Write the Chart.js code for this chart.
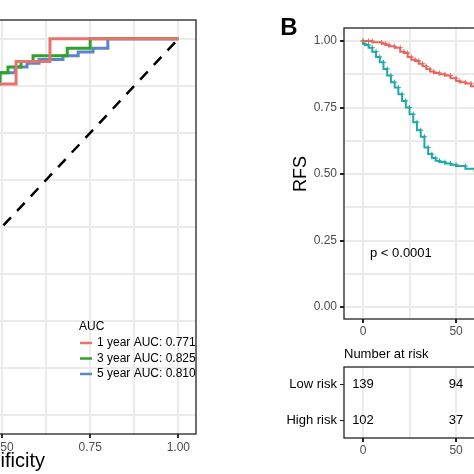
<!DOCTYPE html>
<html>
<head>
<meta charset="utf-8">
<script src="https://cdn.jsdelivr.net/npm/chart.js@4"></script>
<style>
  body { margin: 0; width: 474px; height: 474px; overflow: hidden; position: relative; background: #fff; }
  canvas { position: absolute; }
</style>
</head>
<body>
<canvas id="roc" style="left:-242px;top:0;width:442px;height:474px"></canvas>
<canvas id="km" style="left:280px;top:0;width:335px;height:345px"></canvas>
<canvas id="risk" style="left:280px;top:340px;width:335px;height:134px"></canvas>
<script>
// ROC curves (x: 1 - specificity, y: sensitivity), visible part
const roc1 = [[0.40,0.81],[0.54,0.88],[0.636,0.94],[0.87,1.0],[1.0,1.0]];
const roc3 = [[0.40,0.86],[0.494,0.88],[0.517,0.91],[0.554,0.925],[0.588,0.94],[0.685,0.955],[0.75,0.975],[0.855,1.0],[1.0,1.0]];
const roc5 = [[0.40,0.87],[0.494,0.89],[0.537,0.91],[0.571,0.925],[0.605,0.935],[0.673,0.945],[0.716,0.955],[0.758,0.965],[0.80,0.975],[0.835,1.0],[1.0,1.0]];
const rocLabels = ["1 year AUC: 0.771", "3 year AUC: 0.825", "5 year AUC: 0.810"];
const rocColors = ["#E8736C", "#33A02C", "#5B87C9"];

// Kaplan-Meier RFS, time in months
const kmLow = [[0,1],[3,1],[5,1],[10,0.995],[12,0.99],[14,0.985],[17,0.98],[20,0.975],[22,0.96],[24,0.955],[26,0.94],[28,0.93],[30,0.925],[32,0.915],[34,0.905],[36,0.895],[38,0.885],[41,0.88],[44,0.875],[47,0.87],[50,0.86],[52,0.85],[55,0.845],[58,0.84],[62,0.83],[66,0.82],[70,0.81]];
const kmHigh = [[0,1],[1,0.99],[3,0.985],[5,0.975],[7,0.96],[9,0.94],[11,0.92],[13,0.895],[15,0.87],[17,0.845],[19,0.825],[21,0.8],[23,0.775],[25,0.75],[27,0.725],[29,0.695],[31,0.665],[33,0.64],[35,0.6],[37,0.575],[39,0.56],[41,0.55],[44,0.545],[47,0.54],[50,0.535],[55,0.53],[60,0.52],[64,0.51],[70,0.49]];

// Number at risk
const riskTimes = [0, 50];
const riskGroups = ["Low risk", "High risk"];
const riskLow = [139, 94];
const riskHigh = [102, 37];

const FONT = "'Liberation Sans', Arial, sans-serif";
Chart.defaults.font.family = FONT;
Chart.defaults.animation = false;

const toXY = (arr) => arr.map(([x, y]) => ({ x, y }));
const isMajor = (v) => Math.abs(v / 0.25 - Math.round(v / 0.25)) < 1e-6;
const fmt2 = (v) => (isMajor(v) ? v.toFixed(2) : "");
const eighths = [0, 0.125, 0.25, 0.375, 0.5, 0.625, 0.75, 0.875, 1];

// draws panel border around chart area
const borderPlugin = {
  id: "border",
  afterDraw(chart) {
    const { ctx, chartArea: a } = chart;
    ctx.save();
    ctx.strokeStyle = "#222";
    ctx.lineWidth = 1.3;
    ctx.strokeRect(a.left, a.top, a.right - a.left, a.bottom - a.top);
    ctx.restore();
  },
};

// ROC chart
new Chart(document.getElementById("roc"), {
  type: "line",
  data: {
    datasets: [
      ...[roc1, roc3, roc5].map((d, i) => ({
        label: rocLabels[i],
        data: toXY(d),
        borderColor: rocColors[i],
        borderWidth: 3,
        pointRadius: 0,
        stepped: "after",
      })),
      {
        label: "ref",
        data: [{ x: 0, y: 0 }, { x: 1, y: 1 }],
        borderColor: "#000",
        borderWidth: 2.5,
        borderDash: [11, 9],
        pointRadius: 0,
      },
    ],
  },
  options: {
    responsive: false,
    layout: { padding: { top: 20, right: 4 } },
    plugins: { legend: { display: false }, tooltip: { enabled: false } },
    scales: {
      x: {
        type: "linear",
        min: -0.05,
        max: 1.05,
        afterFit: (s) => { s.height = 40; },
        afterBuildTicks: (s) => { s.ticks = eighths.map((v) => ({ value: v })); },
        ticks: { callback: fmt2, color: "#4d4d4d", font: { size: 12 }, autoSkip: false, maxRotation: 0, padding: 2 },
        grid: { color: "#ebebeb", lineWidth: 2, tickLength: 4, tickColor: (c) => (c.tick && isMajor(c.tick.value) ? "#333" : "transparent") },
        border: { display: false },
      },
      y: {
        type: "linear",
        min: -0.05,
        max: 1.05,
        afterFit: (s) => { s.width = 50; },
        afterBuildTicks: (s) => { s.ticks = eighths.map((v) => ({ value: v })); },
        ticks: { callback: fmt2, color: "#4d4d4d", font: { size: 12 } },
        grid: { color: "#ebebeb", lineWidth: 2, tickLength: 4 },
        border: { display: false },
      },
    },
  },
  plugins: [
    borderPlugin,
    {
      id: "rocText",
      afterDraw(chart) {
        const { ctx } = chart;
        ctx.save();
        ctx.fillStyle = "#000";
        ctx.font = `20px ${FONT}`;
        ctx.textAlign = "right";
        ctx.textBaseline = "middle";
        ctx.fillText("1 - Specificity", 287, 461);
        // legend
        ctx.textAlign = "left";
        ctx.font = `12px ${FONT}`;
        ctx.fillText("AUC", 321, 327);
        rocLabels.forEach((lab, i) => {
          const y = 343 + i * 15.5;
          ctx.strokeStyle = rocColors[i];
          ctx.lineWidth = 2.5;
          ctx.beginPath();
          ctx.moveTo(322, y);
          ctx.lineTo(334, y);
          ctx.stroke();
          ctx.fillText(lab, 339, y);
        });
        ctx.restore();
      },
    },
  ],
});

// KM chart
new Chart(document.getElementById("km"), {
  type: "line",
  data: {
    datasets: [
      { label: "Low risk", data: toXY(kmLow), borderColor: "#E7665D", backgroundColor: "#E7665D", borderWidth: 2, stepped: "after", pointStyle: "cross", pointRadius: 2.5, pointBorderWidth: 1 },
      { label: "High risk", data: toXY(kmHigh), borderColor: "#22A9A9", backgroundColor: "#22A9A9", borderWidth: 2, stepped: "after", pointStyle: "cross", pointRadius: 2.5, pointBorderWidth: 1 },
    ],
  },
  options: {
    responsive: false,
    layout: { padding: { top: 28, right: 10 } },
    plugins: { legend: { display: false }, tooltip: { enabled: false } },
    scales: {
      x: {
        type: "linear",
        min: -10.2,
        max: 130,
        afterFit: (s) => { s.height = 26; },
        afterBuildTicks: (s) => { s.ticks = [0, 25, 50, 75, 100, 125].map((v) => ({ value: v })); },
        ticks: { callback: (v) => (v % 50 === 0 ? String(v) : ""), color: "#4d4d4d", font: { size: 12 }, autoSkip: false, maxRotation: 0, padding: 1 },
        grid: { color: "#ebebeb", lineWidth: 2, tickLength: 4, tickColor: (c) => (c.tick && c.tick.value % 50 === 0 ? "#222" : "transparent") },
        border: { display: false },
      },
      y: {
        type: "linear",
        min: -0.045,
        max: 1.049,
        afterFit: (s) => { s.width = 64; },
        afterBuildTicks: (s) => { s.ticks = eighths.map((v) => ({ value: v })); },
        ticks: { callback: fmt2, color: "#4d4d4d", font: { size: 12 }, padding: 3 },
        grid: { color: "#ebebeb", lineWidth: 2, tickLength: 4, tickColor: (c) => (c.tick && isMajor(c.tick.value) ? "#222" : "transparent") },
        border: { display: false },
      },
    },
  },
  plugins: [
    borderPlugin,
    {
      id: "kmText",
      afterDraw(chart) {
        const { ctx } = chart;
        ctx.save();
        ctx.fillStyle = "#000";
        ctx.font = `bold 24px ${FONT}`;
        ctx.textAlign = "center";
        ctx.textBaseline = "middle";
        ctx.fillText("B", 9, 28);
        ctx.font = `13px ${FONT}`;
        ctx.textAlign = "left";
        ctx.fillText("p < 0.0001", 90, 253);
        ctx.font = `18px ${FONT}`;
        ctx.translate(21, 174);
        ctx.rotate(-Math.PI / 2);
        ctx.textAlign = "center";
        ctx.fillText("RFS", 0, 0);
        ctx.restore();
      },
    },
  ],
});

// Number at risk table
new Chart(document.getElementById("risk"), {
  type: "scatter",
  data: {
    labels: riskGroups,
    datasets: [{ data: [], pointRadius: 0 }],
  },
  options: {
    responsive: false,
    layout: { padding: { top: 27, right: 10 } },
    plugins: { legend: { display: false }, tooltip: { enabled: false } },
    scales: {
      x: {
        type: "linear",
        min: -10.2,
        max: 130,
        afterFit: (s) => { s.height = 36; },
        afterBuildTicks: (s) => { s.ticks = [0, 25, 50, 75, 100, 125].map((v) => ({ value: v })); },
        ticks: { callback: (v) => (v % 50 === 0 ? String(v) : ""), color: "#4d4d4d", font: { size: 12 }, autoSkip: false, maxRotation: 0, padding: 1 },
        grid: { color: "#ebebeb", lineWidth: 2, tickLength: 4, tickColor: (c) => (c.tick && c.tick.value % 50 === 0 ? "#222" : "transparent") },
        border: { display: false },
      },
      y: {
        type: "category",
        labels: riskGroups,
        offset: true,
        afterFit: (s) => { s.width = 64; },
        ticks: { color: "#000", font: { size: 13 }, padding: 3 },
        grid: { display: true, drawOnChartArea: false, tickLength: 4, tickColor: "#222", offset: false },
        border: { display: false },
      },
    },
  },
  plugins: [
    borderPlugin,
    {
      id: "riskText",
      afterDraw(chart) {
        const { ctx, scales } = chart;
        ctx.save();
        ctx.fillStyle = "#000";
        ctx.font = `13px ${FONT}`;
        ctx.textAlign = "left";
        ctx.textBaseline = "middle";
        ctx.fillText("Number at risk", 64, 14);
        ctx.textAlign = "center";
        [riskLow, riskHigh].forEach((row, r) => {
          const y = scales.y.getPixelForValue(r);
          row.forEach((n, i) => {
            ctx.fillText(String(n), scales.x.getPixelForValue(riskTimes[i]), y);
          });
        });
        ctx.restore();
      },
    },
  ],
});
</script>
</body>
</html>
